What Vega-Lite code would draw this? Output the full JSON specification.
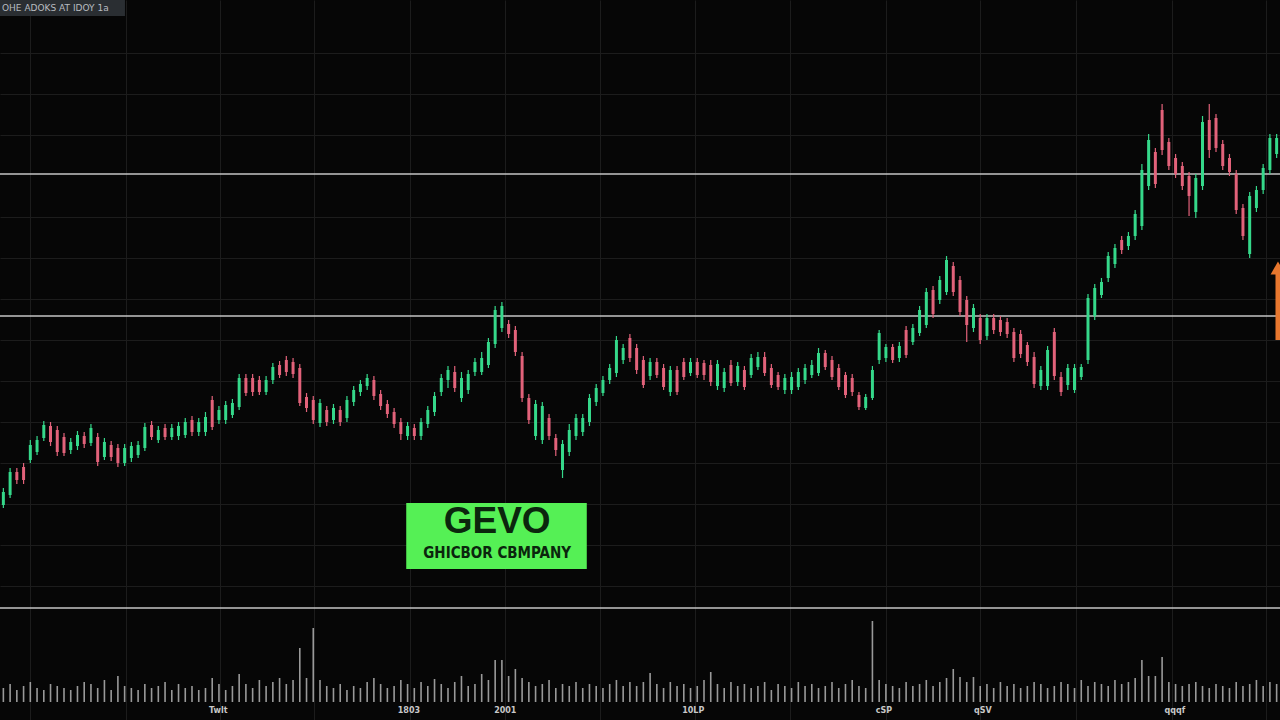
{
"$schema":"https://vega.github.io/schema/vega-lite/v6.json",
"width":1280,"height":720,"padding":0,
"autosize":{"type":"none"},
"background":"#060606",
"config":{"view":{"stroke":null},"scale":{"continuousPadding":0},"axis":{"minExtent":0,"maxExtent":0,"offset":0,"labels":false,"ticks":false,"domain":false,"title":null,"grid":true,"gridColor":"#1c1c1c","gridWidth":1}},
"datasets":{
"candles":[
{"d":0,"o":2.15,"h":2.32,"l":2.12,"c":2.28,"v":1.4},
{"d":1,"o":2.25,"h":2.52,"l":2.22,"c":2.48,"v":1.8},
{"d":2,"o":2.48,"h":2.52,"l":2.36,"c":2.40,"v":1.2},
{"d":3,"o":2.53,"h":2.57,"l":2.36,"c":2.40,"v":1.6},
{"d":4,"o":2.60,"h":2.80,"l":2.57,"c":2.75,"v":2.0},
{"d":5,"o":2.68,"h":2.84,"l":2.65,"c":2.80,"v":1.4},
{"d":6,"o":2.82,"h":2.99,"l":2.79,"c":2.95,"v":1.2},
{"d":7,"o":2.94,"h":2.98,"l":2.74,"c":2.78,"v":1.8},
{"d":8,"o":2.90,"h":2.94,"l":2.64,"c":2.68,"v":1.6},
{"d":9,"o":2.83,"h":2.87,"l":2.64,"c":2.67,"v":1.4},
{"d":10,"o":2.70,"h":2.82,"l":2.66,"c":2.78,"v":1.2},
{"d":11,"o":2.74,"h":2.89,"l":2.70,"c":2.85,"v":1.6},
{"d":12,"o":2.84,"h":2.88,"l":2.72,"c":2.76,"v":2.0},
{"d":13,"o":2.77,"h":2.96,"l":2.74,"c":2.92,"v":1.8},
{"d":14,"o":2.83,"h":2.87,"l":2.54,"c":2.58,"v":1.4},
{"d":15,"o":2.63,"h":2.82,"l":2.60,"c":2.78,"v":2.2},
{"d":16,"o":2.75,"h":2.79,"l":2.59,"c":2.63,"v":1.2},
{"d":17,"o":2.72,"h":2.76,"l":2.53,"c":2.57,"v":2.6},
{"d":18,"o":2.57,"h":2.76,"l":2.54,"c":2.72,"v":1.6},
{"d":19,"o":2.62,"h":2.78,"l":2.58,"c":2.74,"v":1.4},
{"d":20,"o":2.65,"h":2.79,"l":2.62,"c":2.75,"v":1.2},
{"d":21,"o":2.72,"h":2.97,"l":2.69,"c":2.93,"v":1.8},
{"d":22,"o":2.95,"h":2.99,"l":2.80,"c":2.83,"v":1.4},
{"d":23,"o":2.80,"h":2.94,"l":2.77,"c":2.90,"v":1.6},
{"d":24,"o":2.92,"h":2.96,"l":2.80,"c":2.83,"v":2.0},
{"d":25,"o":2.83,"h":2.96,"l":2.80,"c":2.92,"v":1.2},
{"d":26,"o":2.84,"h":2.98,"l":2.80,"c":2.94,"v":1.8},
{"d":27,"o":2.85,"h":3.02,"l":2.82,"c":2.98,"v":1.4},
{"d":28,"o":3.00,"h":3.04,"l":2.84,"c":2.88,"v":1.6},
{"d":29,"o":2.88,"h":3.02,"l":2.84,"c":2.98,"v":1.2},
{"d":30,"o":2.88,"h":3.08,"l":2.84,"c":3.03,"v":1.4},
{"d":31,"o":3.20,"h":3.24,"l":2.90,"c":2.93,"v":2.4},
{"d":32,"o":3.00,"h":3.14,"l":2.96,"c":3.10,"v":1.8},
{"d":33,"o":3.00,"h":3.19,"l":2.96,"c":3.15,"v":1.2},
{"d":34,"o":3.05,"h":3.21,"l":3.02,"c":3.17,"v":1.6},
{"d":35,"o":3.13,"h":3.46,"l":3.10,"c":3.42,"v":2.8},
{"d":36,"o":3.42,"h":3.46,"l":3.24,"c":3.27,"v":1.8},
{"d":37,"o":3.42,"h":3.46,"l":3.24,"c":3.28,"v":1.4},
{"d":38,"o":3.40,"h":3.44,"l":3.25,"c":3.28,"v":2.2},
{"d":39,"o":3.28,"h":3.44,"l":3.25,"c":3.40,"v":1.6},
{"d":40,"o":3.40,"h":3.57,"l":3.36,"c":3.53,"v":2.0},
{"d":41,"o":3.55,"h":3.59,"l":3.42,"c":3.45,"v":2.4},
{"d":42,"o":3.60,"h":3.64,"l":3.44,"c":3.48,"v":1.8},
{"d":43,"o":3.58,"h":3.62,"l":3.42,"c":3.46,"v":2.2},
{"d":44,"o":3.52,"h":3.56,"l":3.14,"c":3.17,"v":5.4},
{"d":45,"o":3.23,"h":3.27,"l":3.08,"c":3.12,"v":2.4},
{"d":46,"o":3.20,"h":3.24,"l":2.96,"c":3.00,"v":7.4},
{"d":47,"o":2.97,"h":3.21,"l":2.93,"c":3.17,"v":2.2},
{"d":48,"o":3.10,"h":3.14,"l":2.94,"c":2.98,"v":1.6},
{"d":49,"o":3.00,"h":3.16,"l":2.96,"c":3.12,"v":1.4},
{"d":50,"o":3.10,"h":3.14,"l":2.94,"c":2.98,"v":1.8},
{"d":51,"o":3.02,"h":3.24,"l":2.98,"c":3.20,"v":1.2},
{"d":52,"o":3.18,"h":3.34,"l":3.14,"c":3.30,"v":1.6},
{"d":53,"o":3.28,"h":3.40,"l":3.24,"c":3.36,"v":1.4},
{"d":54,"o":3.34,"h":3.46,"l":3.30,"c":3.42,"v":2.0},
{"d":55,"o":3.40,"h":3.44,"l":3.20,"c":3.24,"v":2.4},
{"d":56,"o":3.26,"h":3.30,"l":3.10,"c":3.14,"v":1.8},
{"d":57,"o":3.16,"h":3.20,"l":3.02,"c":3.06,"v":1.4},
{"d":58,"o":3.08,"h":3.12,"l":2.92,"c":2.96,"v":1.6},
{"d":59,"o":2.98,"h":3.02,"l":2.80,"c":2.86,"v":2.2},
{"d":60,"o":2.84,"h":2.98,"l":2.80,"c":2.94,"v":1.8},
{"d":61,"o":2.92,"h":2.96,"l":2.80,"c":2.84,"v":1.4},
{"d":62,"o":2.84,"h":3.02,"l":2.80,"c":2.98,"v":2.0},
{"d":63,"o":2.96,"h":3.14,"l":2.92,"c":3.10,"v":1.6},
{"d":64,"o":3.08,"h":3.28,"l":3.04,"c":3.24,"v":2.3},
{"d":65,"o":3.28,"h":3.46,"l":3.24,"c":3.42,"v":1.8},
{"d":66,"o":3.40,"h":3.54,"l":3.32,"c":3.50,"v":1.4},
{"d":67,"o":3.48,"h":3.54,"l":3.28,"c":3.32,"v":2.0},
{"d":68,"o":3.22,"h":3.48,"l":3.18,"c":3.42,"v":2.6},
{"d":69,"o":3.30,"h":3.50,"l":3.26,"c":3.46,"v":1.6},
{"d":70,"o":3.48,"h":3.62,"l":3.44,"c":3.58,"v":1.8},
{"d":71,"o":3.48,"h":3.68,"l":3.45,"c":3.62,"v":2.8},
{"d":72,"o":3.55,"h":3.82,"l":3.52,"c":3.78,"v":2.2},
{"d":73,"o":3.76,"h":4.14,"l":3.72,"c":4.10,"v":4.2},
{"d":74,"o":3.92,"h":4.18,"l":3.88,"c":4.14,"v":4.2},
{"d":75,"o":3.96,"h":4.00,"l":3.82,"c":3.86,"v":2.6},
{"d":76,"o":3.90,"h":3.94,"l":3.64,"c":3.68,"v":3.3},
{"d":77,"o":3.64,"h":3.68,"l":3.18,"c":3.22,"v":2.4},
{"d":78,"o":3.22,"h":3.26,"l":2.96,"c":3.00,"v":2.0},
{"d":79,"o":2.84,"h":3.20,"l":2.80,"c":3.16,"v":1.6},
{"d":80,"o":2.80,"h":3.18,"l":2.76,"c":3.14,"v":1.8},
{"d":81,"o":3.02,"h":3.06,"l":2.80,"c":2.84,"v":2.2},
{"d":82,"o":2.82,"h":2.86,"l":2.64,"c":2.70,"v":1.4},
{"d":83,"o":2.50,"h":2.80,"l":2.42,"c":2.76,"v":1.8},
{"d":84,"o":2.68,"h":2.96,"l":2.64,"c":2.90,"v":1.6},
{"d":85,"o":2.84,"h":3.06,"l":2.80,"c":3.02,"v":2.0},
{"d":86,"o":2.88,"h":3.06,"l":2.84,"c":3.02,"v":1.4},
{"d":87,"o":2.98,"h":3.26,"l":2.94,"c":3.22,"v":1.8},
{"d":88,"o":3.18,"h":3.36,"l":3.14,"c":3.32,"v":1.6},
{"d":89,"o":3.27,"h":3.44,"l":3.24,"c":3.40,"v":1.4},
{"d":90,"o":3.40,"h":3.56,"l":3.36,"c":3.52,"v":1.8},
{"d":91,"o":3.47,"h":3.84,"l":3.43,"c":3.80,"v":2.2},
{"d":92,"o":3.60,"h":3.76,"l":3.56,"c":3.72,"v":1.6},
{"d":93,"o":3.82,"h":3.86,"l":3.58,"c":3.62,"v":2.0},
{"d":94,"o":3.72,"h":3.76,"l":3.46,"c":3.50,"v":1.6},
{"d":95,"o":3.60,"h":3.64,"l":3.32,"c":3.35,"v":2.0},
{"d":96,"o":3.44,"h":3.62,"l":3.40,"c":3.58,"v":2.9},
{"d":97,"o":3.58,"h":3.62,"l":3.42,"c":3.45,"v":1.8},
{"d":98,"o":3.52,"h":3.56,"l":3.30,"c":3.33,"v":1.4},
{"d":99,"o":3.28,"h":3.54,"l":3.24,"c":3.50,"v":2.0},
{"d":100,"o":3.50,"h":3.54,"l":3.25,"c":3.28,"v":1.6},
{"d":101,"o":3.58,"h":3.62,"l":3.40,"c":3.43,"v":1.8},
{"d":102,"o":3.47,"h":3.62,"l":3.44,"c":3.58,"v":1.4},
{"d":103,"o":3.58,"h":3.62,"l":3.42,"c":3.45,"v":1.6},
{"d":104,"o":3.57,"h":3.60,"l":3.40,"c":3.45,"v":2.2},
{"d":105,"o":3.55,"h":3.60,"l":3.34,"c":3.38,"v":3.0},
{"d":106,"o":3.34,"h":3.60,"l":3.30,"c":3.56,"v":1.8},
{"d":107,"o":3.32,"h":3.52,"l":3.28,"c":3.48,"v":1.4},
{"d":108,"o":3.55,"h":3.60,"l":3.34,"c":3.37,"v":2.0},
{"d":109,"o":3.38,"h":3.58,"l":3.34,"c":3.54,"v":1.6},
{"d":110,"o":3.50,"h":3.54,"l":3.30,"c":3.33,"v":1.8},
{"d":111,"o":3.45,"h":3.66,"l":3.42,"c":3.62,"v":1.4},
{"d":112,"o":3.53,"h":3.68,"l":3.50,"c":3.63,"v":1.6},
{"d":113,"o":3.63,"h":3.68,"l":3.44,"c":3.47,"v":2.0},
{"d":114,"o":3.52,"h":3.56,"l":3.32,"c":3.35,"v":1.2},
{"d":115,"o":3.45,"h":3.48,"l":3.30,"c":3.33,"v":1.8},
{"d":116,"o":3.30,"h":3.46,"l":3.26,"c":3.42,"v":1.6},
{"d":117,"o":3.30,"h":3.48,"l":3.26,"c":3.43,"v":1.4},
{"d":118,"o":3.33,"h":3.52,"l":3.30,"c":3.48,"v":2.0},
{"d":119,"o":3.40,"h":3.56,"l":3.36,"c":3.52,"v":1.6},
{"d":120,"o":3.45,"h":3.60,"l":3.42,"c":3.55,"v":1.8},
{"d":121,"o":3.47,"h":3.72,"l":3.44,"c":3.67,"v":1.4},
{"d":122,"o":3.67,"h":3.70,"l":3.50,"c":3.53,"v":1.6},
{"d":123,"o":3.60,"h":3.64,"l":3.40,"c":3.43,"v":2.0},
{"d":124,"o":3.52,"h":3.56,"l":3.30,"c":3.33,"v":1.4},
{"d":125,"o":3.45,"h":3.48,"l":3.22,"c":3.25,"v":1.8},
{"d":126,"o":3.42,"h":3.46,"l":3.24,"c":3.28,"v":2.2},
{"d":127,"o":3.25,"h":3.28,"l":3.10,"c":3.13,"v":1.6},
{"d":128,"o":3.12,"h":3.26,"l":3.10,"c":3.23,"v":1.4},
{"d":129,"o":3.22,"h":3.54,"l":3.20,"c":3.50,"v":8.1},
{"d":130,"o":3.60,"h":3.90,"l":3.56,"c":3.87,"v":2.2},
{"d":131,"o":3.62,"h":3.76,"l":3.58,"c":3.73,"v":1.8},
{"d":132,"o":3.73,"h":3.76,"l":3.57,"c":3.60,"v":1.6},
{"d":133,"o":3.62,"h":3.78,"l":3.58,"c":3.74,"v":1.4},
{"d":134,"o":3.90,"h":3.94,"l":3.62,"c":3.65,"v":2.0},
{"d":135,"o":3.78,"h":3.96,"l":3.75,"c":3.92,"v":1.6},
{"d":136,"o":3.87,"h":4.14,"l":3.84,"c":4.10,"v":1.8},
{"d":137,"o":3.95,"h":4.32,"l":3.92,"c":4.28,"v":2.2},
{"d":138,"o":4.30,"h":4.34,"l":4.02,"c":4.06,"v":1.6},
{"d":139,"o":4.20,"h":4.44,"l":4.16,"c":4.40,"v":2.0},
{"d":140,"o":4.28,"h":4.64,"l":4.25,"c":4.60,"v":2.4},
{"d":141,"o":4.54,"h":4.58,"l":4.24,"c":4.28,"v":3.3},
{"d":142,"o":4.40,"h":4.44,"l":4.04,"c":4.08,"v":2.5},
{"d":143,"o":4.20,"h":4.24,"l":3.78,"c":3.95,"v":2.0},
{"d":144,"o":3.92,"h":4.16,"l":3.88,"c":4.12,"v":2.5},
{"d":145,"o":4.02,"h":4.06,"l":3.76,"c":3.80,"v":1.6},
{"d":146,"o":3.84,"h":4.06,"l":3.80,"c":4.02,"v":1.8},
{"d":147,"o":4.02,"h":4.06,"l":3.86,"c":3.90,"v":1.4},
{"d":148,"o":4.00,"h":4.04,"l":3.84,"c":3.88,"v":2.0},
{"d":149,"o":3.98,"h":4.02,"l":3.82,"c":3.86,"v":1.6},
{"d":150,"o":3.88,"h":3.92,"l":3.58,"c":3.62,"v":1.8},
{"d":151,"o":3.86,"h":3.90,"l":3.62,"c":3.66,"v":1.4},
{"d":152,"o":3.75,"h":3.78,"l":3.54,"c":3.58,"v":1.6},
{"d":153,"o":3.63,"h":3.68,"l":3.32,"c":3.36,"v":2.0},
{"d":154,"o":3.34,"h":3.54,"l":3.30,"c":3.50,"v":1.8},
{"d":155,"o":3.34,"h":3.74,"l":3.30,"c":3.70,"v":1.4},
{"d":156,"o":3.88,"h":3.92,"l":3.40,"c":3.44,"v":1.6},
{"d":157,"o":3.43,"h":3.48,"l":3.24,"c":3.28,"v":2.0},
{"d":158,"o":3.35,"h":3.56,"l":3.30,"c":3.52,"v":1.8},
{"d":159,"o":3.30,"h":3.56,"l":3.27,"c":3.52,"v":1.4},
{"d":160,"o":3.43,"h":3.56,"l":3.40,"c":3.53,"v":2.2},
{"d":161,"o":3.60,"h":4.26,"l":3.56,"c":4.22,"v":1.6},
{"d":162,"o":4.04,"h":4.36,"l":4.00,"c":4.32,"v":2.0},
{"d":163,"o":4.25,"h":4.42,"l":4.22,"c":4.38,"v":1.8},
{"d":164,"o":4.42,"h":4.68,"l":4.38,"c":4.64,"v":1.6},
{"d":165,"o":4.56,"h":4.76,"l":4.52,"c":4.72,"v":2.2},
{"d":166,"o":4.80,"h":4.84,"l":4.66,"c":4.70,"v":1.8},
{"d":167,"o":4.74,"h":4.88,"l":4.70,"c":4.84,"v":2.0},
{"d":168,"o":4.84,"h":5.10,"l":4.80,"c":5.06,"v":2.4},
{"d":169,"o":4.94,"h":5.56,"l":4.90,"c":5.50,"v":4.2},
{"d":170,"o":5.34,"h":5.86,"l":5.30,"c":5.80,"v":2.6},
{"d":171,"o":5.68,"h":5.72,"l":5.32,"c":5.36,"v":2.6},
{"d":172,"o":6.10,"h":6.16,"l":5.65,"c":5.70,"v":4.5},
{"d":173,"o":5.78,"h":5.82,"l":5.50,"c":5.54,"v":2.0},
{"d":174,"o":5.62,"h":5.66,"l":5.42,"c":5.46,"v":1.8},
{"d":175,"o":5.54,"h":5.58,"l":5.30,"c":5.34,"v":1.6},
{"d":176,"o":5.44,"h":5.48,"l":5.04,"c":5.24,"v":1.8},
{"d":177,"o":5.08,"h":5.46,"l":5.02,"c":5.42,"v":2.0},
{"d":178,"o":5.34,"h":6.04,"l":5.30,"c":5.98,"v":1.6},
{"d":179,"o":6.00,"h":6.16,"l":5.62,"c":5.70,"v":1.4},
{"d":180,"o":6.02,"h":6.06,"l":5.68,"c":5.72,"v":1.8},
{"d":181,"o":5.76,"h":5.80,"l":5.50,"c":5.54,"v":1.6},
{"d":182,"o":5.62,"h":5.66,"l":5.44,"c":5.48,"v":1.4},
{"d":183,"o":5.46,"h":5.50,"l":5.06,"c":5.10,"v":2.0},
{"d":184,"o":5.12,"h":5.16,"l":4.80,"c":4.84,"v":1.6},
{"d":185,"o":4.66,"h":5.28,"l":4.62,"c":5.24,"v":1.8},
{"d":186,"o":5.12,"h":5.34,"l":5.08,"c":5.30,"v":2.2},
{"d":187,"o":5.30,"h":5.56,"l":5.26,"c":5.52,"v":1.6},
{"d":188,"o":5.50,"h":5.86,"l":5.46,"c":5.82,"v":2.0},
{"d":189,"o":5.66,"h":5.86,"l":5.62,"c":5.82,"v":1.8}
],
"levels":[{"level":5.46},{"level":4.04},{"level":1.12}],
"datelabels":[
{"d":31.9,"p":0.09,"t":"Twlt"},{"d":60.2,"p":0.09,"t":"1803"},{"d":74.5,"p":0.09,"t":"2001"},
{"d":102.4,"p":0.09,"t":"10LP"},{"d":130.7,"p":0.09,"t":"cSP"},{"d":145.4,"p":0.09,"t":"qSV"},{"d":173.9,"p":0.09,"t":"qqqf"}]
},
"layer":[
{"layer":[
 {"data":{"name":"levels"},"mark":{"type":"rule","color":"#c4c4c4","strokeWidth":1.5},
  "encoding":{
   "x":{"datum":-0.5,"type":"quantitative","scale":{"domain":[-0.5,189.5],"nice":false,"zero":false,"padding":0},"axis":{"values":[3.95,18.2,32.2,46.1,60.4,74.5,88.6,102.7,116.8,131,145,159.2,173.5,187.4],"grid":true,"labels":false,"ticks":false,"domain":false,"title":null,"gridColor":"#1c1c1c"}},
   "x2":{"datum":189.5},
   "y":{"field":"level","type":"quantitative","scale":{"domain":[0,7.2],"nice":false,"zero":false,"padding":0},"axis":{"values":[6.67,6.26,5.85,5.03,4.62,4.21,3.8,3.39,2.98,2.57,2.16,1.75,1.34],"grid":true,"labels":false,"ticks":false,"domain":false,"title":null,"gridColor":"#1c1c1c"}}}},
 {"data":{"name":"candles"},"mark":{"type":"rule","strokeWidth":1.2},
  "encoding":{
   "x":{"field":"d","type":"quantitative","scale":{"domain":[-0.5,189.5],"nice":false,"zero":false,"padding":0},"axis":{"values":[3.95,18.2,32.2,46.1,60.4,74.5,88.6,102.7,116.8,131,145,159.2,173.5,187.4],"grid":true,"labels":false,"ticks":false,"domain":false,"title":null,"gridColor":"#1c1c1c"}},
   "y":{"field":"l","type":"quantitative","scale":{"domain":[0,7.2],"nice":false,"zero":false,"padding":0},"axis":{"values":[6.67,6.26,5.85,5.03,4.62,4.21,3.8,3.39,2.98,2.57,2.16,1.75,1.34],"grid":true,"labels":false,"ticks":false,"domain":false,"title":null,"gridColor":"#1c1c1c"}},
   "y2":{"field":"h"},
   "color":{"condition":{"test":"datum.c >= datum.o","value":"#35d88a"},"value":"#e2627a"}}},
 {"data":{"name":"candles"},"mark":{"type":"bar","size":3},
  "encoding":{
   "x":{"field":"d","type":"quantitative","scale":{"domain":[-0.5,189.5],"nice":false,"zero":false,"padding":0},"axis":{"values":[3.95,18.2,32.2,46.1,60.4,74.5,88.6,102.7,116.8,131,145,159.2,173.5,187.4],"grid":true,"labels":false,"ticks":false,"domain":false,"title":null,"gridColor":"#1c1c1c"}},
   "y":{"field":"o","type":"quantitative","scale":{"domain":[0,7.2],"nice":false,"zero":false,"padding":0},"axis":{"values":[6.67,6.26,5.85,5.03,4.62,4.21,3.8,3.39,2.98,2.57,2.16,1.75,1.34],"grid":true,"labels":false,"ticks":false,"domain":false,"title":null,"gridColor":"#1c1c1c"}},
   "y2":{"field":"c"},
   "color":{"condition":{"test":"datum.c >= datum.o","value":"#35d88a"},"value":"#e2627a"}}},
 {"data":{"values":[{"a":59.8,"b":86.6,"p1":2.17,"p2":1.51}]},"mark":{"type":"rect","color":"#55f055"},
  "encoding":{"x":{"field":"a","type":"quantitative"},"x2":{"field":"b"},"y":{"field":"p1","type":"quantitative"},"y2":{"field":"p2"}}},
 {"data":{"values":[{"d":73.3,"p":1.98,"t":"GEVO"}]},"mark":{"type":"text","font":"Liberation Sans","fontWeight":"bold","fontSize":37,"color":"#0b260d","baseline":"middle","align":"center"},
  "encoding":{"x":{"field":"d","type":"quantitative"},"y":{"field":"p","type":"quantitative"},"text":{"field":"t"}}},
 {"data":{"values":[{"d":73.3,"p":1.67,"t":"GHICBOR CBMPANY"}]},"mark":{"type":"text","font":"Liberation Sans Narrow, DejaVu Sans Condensed, sans-serif","fontWeight":"bold","fontSize":15,"color":"#0b260d","baseline":"middle","align":"center"},
  "encoding":{"x":{"field":"d","type":"quantitative"},"y":{"field":"p","type":"quantitative"},"text":{"field":"t"}}},
 {"data":{"values":[{"a":-0.5,"b":18.05,"p1":7.2,"p2":7.04}]},"mark":{"type":"rect","color":"#2a2e32"},
  "encoding":{"x":{"field":"a","type":"quantitative"},"x2":{"field":"b"},"y":{"field":"p1","type":"quantitative"},"y2":{"field":"p2"}}},
 {"data":{"values":[{"d":-0.2,"p":7.12,"t":"OHE ADOKS AT IDOY  1a"}]},"mark":{"type":"text","font":"DejaVu Sans","fontSize":9,"color":"#b8bcc0","baseline":"middle","align":"left"},
  "encoding":{"x":{"field":"d","type":"quantitative"},"y":{"field":"p","type":"quantitative"},"text":{"field":"t"}}},
 {"data":{"name":"datelabels"},"mark":{"type":"text","font":"DejaVu Sans","fontSize":8,"fontWeight":"bold","color":"#c8c8c8","baseline":"middle","align":"center"},
  "encoding":{"x":{"field":"d","type":"quantitative"},"y":{"field":"p","type":"quantitative"},"text":{"field":"t"}}},
 {"data":{"values":[{"d":189.2,"p1":4.48,"p2":3.8}]},"mark":{"type":"rule","color":"#e8772e","strokeWidth":5},
  "encoding":{"x":{"field":"d","type":"quantitative"},"y":{"field":"p1","type":"quantitative"},"y2":{"field":"p2"}}},
 {"data":{"values":[{"d":189.2,"p":4.52}]},"mark":{"type":"point","shape":"triangle-up","filled":true,"color":"#e8772e","size":220,"opacity":1},
  "encoding":{"x":{"field":"d","type":"quantitative"},"y":{"field":"p","type":"quantitative"}}}
 ]},
{"data":{"name":"candles"},"mark":{"type":"rule","strokeWidth":1.6,"color":"#b4b4b4","opacity":0.85},
 "encoding":{
  "x":{"field":"d","type":"quantitative","scale":{"domain":[-0.5,189.5],"nice":false,"zero":false,"padding":0},"axis":{"values":[3.95,18.2,32.2,46.1,60.4,74.5,88.6,102.7,116.8,131,145,159.2,173.5,187.4],"grid":true,"labels":false,"ticks":false,"domain":false,"title":null,"gridColor":"#1c1c1c"}},
  "y":{"field":"v","type":"quantitative","scale":{"domain":[-1.8,70.2],"nice":false,"zero":false,"padding":0},"axis":null},
  "y2":{"datum":0}}}
],
"resolve":{"scale":{"y":"independent"}}
}
